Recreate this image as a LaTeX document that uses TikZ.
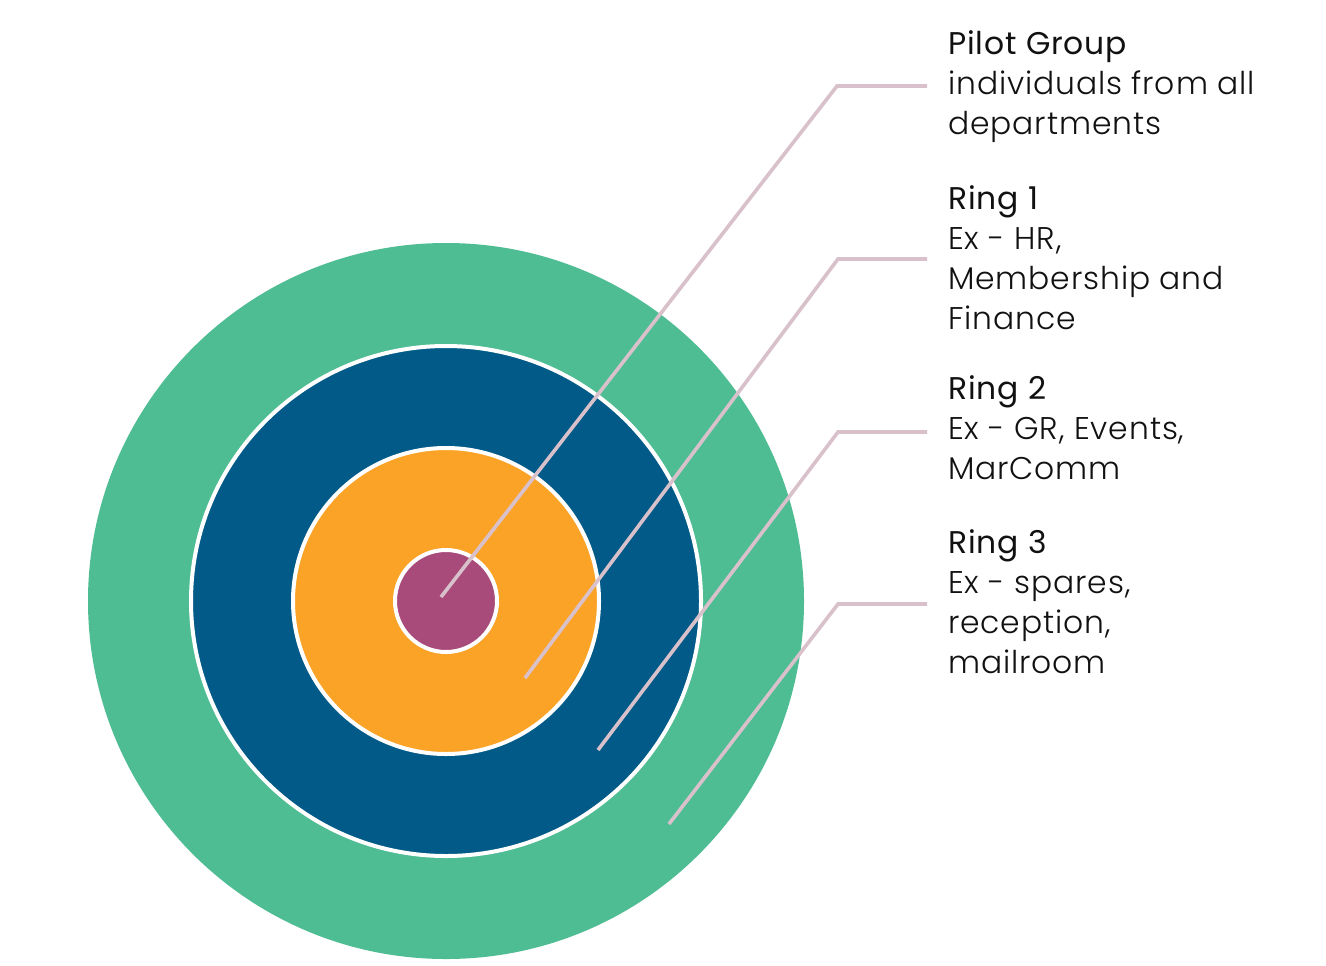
\documentclass[tikz,border=0pt]{standalone}
\usepackage{fontspec}
\setmainfont{Poppins}[LetterSpace=2.8]
\newfontfamily\lightfont{Poppins Light}[LetterSpace=2.8]
\definecolor{ringgreen}{HTML}{4FBD94}
\definecolor{ringblue}{HTML}{015A87}
\definecolor{ringorange}{HTML}{FBA327}
\definecolor{ringpurple}{HTML}{A84A7A}
\definecolor{leader}{HTML}{D9C1CB}
\definecolor{txt}{HTML}{111111}
\newcommand{\hd}[1]{{\normalfont\fontsize{31.5}{40.15}\selectfont #1}}
\begin{document}
\begin{tikzpicture}[x=1bp,y=-1bp,
  ring/.style={draw=white,line width=4bp},
  leaderline/.style={draw=leader,line width=3.6bp},
  lbl/.style={anchor=base west,align=left,inner sep=0pt,text=txt,
    font=\lightfont\fontsize{31.5}{40.15}\selectfont}]
\useasboundingbox (0,0) rectangle (1326,965);
\fill[white] (0,0) rectangle (1326,965);
% rings
\node[circle,fill=ringgreen,minimum size=716bp,inner sep=0pt] (r3) at (446,601) {};
\fill[ringblue,ring] (446,601) circle[radius=255];
\fill[ringorange,ring] (446,601) circle[radius=153];
\fill[ringpurple,ring] (446,601) circle[radius=51];
% leader points
\coordinate (p0) at (441,597);
\coordinate (c0) at (837,86);
\coordinate (e0) at (927,86);
\coordinate (p1) at (525,678);
\coordinate (c1) at (838,259);
\coordinate (e1) at (927,259);
\coordinate (p2) at (598,750);
\coordinate (c2) at (838,432);
\coordinate (e2) at (927,432);
\coordinate (p3) at (669,824);
\coordinate (c3) at (838,604);
\coordinate (e3) at (927,604);
\draw[leaderline] (p0) -- (c0) -- (e0);
\draw[leaderline] (p1) -- (c1) -- (e1);
\draw[leaderline] (p2) -- (c2) -- (e2);
\draw[leaderline] (p3) -- (c3) -- (e3);
% labels (base anchor = baseline of last line)
\node[lbl] (t0) at (948,134) {\hd{Pilot Group}\\individuals from all\\departments};
\node[lbl] (t1) at (948,329) {\hd{Ring 1}\\Ex - HR,\\Membership and\\Finance};
\node[lbl] (t2) at (948,479) {\hd{Ring 2}\\Ex - GR, Events,\\MarComm};
\node[lbl] (t3) at (948,673) {\hd{Ring 3}\\Ex - spares,\\reception,\\mailroom};
\end{tikzpicture}
\end{document}
